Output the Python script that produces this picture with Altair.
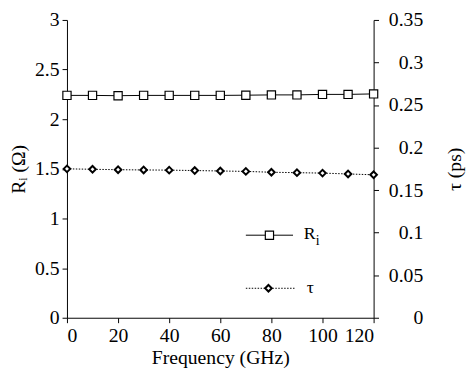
import altair as alt
import pandas as pd

freq = [0, 10, 20, 30, 40, 50, 60, 70, 80, 90, 100, 110, 120]
ri = [2.24, 2.24, 2.237, 2.24, 2.24, 2.24, 2.24, 2.242, 2.245, 2.245, 2.25, 2.25, 2.255]
tau = [0.175, 0.1745, 0.174, 0.1737, 0.1735, 0.173, 0.1725, 0.172, 0.171, 0.1705, 0.170, 0.169, 0.168]

x_ticks = [0, 20, 40, 60, 80, 100, 120]
ri_ticks = [0, 0.5, 1, 1.5, 2, 2.5, 3]
tau_ticks = [0, 0.05, 0.1, 0.15, 0.2, 0.25, 0.3, 0.35]

df = pd.DataFrame({"freq": freq, "ri": ri, "tau": tau})
one = pd.DataFrame({"k": [0]})

FONT = "Liberation Serif"
AX = dict(labelFont=FONT, titleFont=FONT, labelFontSize=20, titleFontSize=20,
          labelColor="black", titleColor="black", grid=False)

xenc = alt.X("freq:Q", scale=alt.Scale(domain=[0, 120], nice=False),
             axis=alt.Axis(values=x_ticks, title="Frequency (GHz)",
                           labelPadding=3, titlePadding=3, **AX))

ri_y = alt.Y("ri:Q", scale=alt.Scale(domain=[0, 3], nice=False),
             axis=alt.Axis(values=ri_ticks, format="~g", title="Rᵢ (Ω)", orient="left",
                           labelPadding=3, titlePadding=6, **AX))
tau_y = alt.Y("tau:Q", scale=alt.Scale(domain=[0, 0.35], nice=False),
              axis=alt.Axis(values=tau_ticks, format="~g", title="τ (ps)", orient="right",
                            labelAlign="right", labelPadding=45,
                            titleAngle=270, titlePadding=42, **AX))

base = alt.Chart(df)
ri_line = base.mark_line(color="black", strokeWidth=1).encode(x=xenc, y=ri_y)
ri_pts = base.mark_point(shape="square", filled=True, fill="white", stroke="black",
                         strokeWidth=1.2, size=70, opacity=1).encode(x="freq:Q", y="ri:Q")
tau_line = base.mark_line(color="black", strokeWidth=1, strokeDash=[1.5, 1.5]).encode(x=xenc, y=tau_y)
tau_pts = base.mark_point(shape="diamond", filled=True, fill="white", stroke="black",
                          strokeWidth=2, size=45, opacity=1).encode(x="freq:Q", y="tau:Q")

ri_layer = alt.layer(ri_line, ri_pts)
tau_layer = alt.layer(tau_line, tau_pts)

lg = alt.Chart(one)
leg1_line = lg.mark_rule(color="black", strokeWidth=1).encode(
    x=alt.value(182), x2=alt.value(230), y=alt.value(219))
leg1_pt = lg.mark_point(shape="square", filled=True, fill="white", stroke="black",
                        strokeWidth=1.2, size=70, opacity=1).encode(x=alt.value(206), y=alt.value(219))
leg1_t = lg.mark_text(text="R", font=FONT, fontSize=18, align="left", baseline="middle",
                      color="black").encode(x=alt.value(241), y=alt.value(218))
leg1_s = lg.mark_text(text="i", font=FONT, fontSize=14, align="left", baseline="middle",
                      color="black").encode(x=alt.value(253), y=alt.value(225))
leg2_line = lg.mark_rule(color="black", strokeWidth=1, strokeDash=[1.5, 1.5]).encode(
    x=alt.value(182), x2=alt.value(232), y=alt.value(273))
leg2_pt = lg.mark_point(shape="diamond", filled=True, fill="white", stroke="black",
                        strokeWidth=2, size=45, opacity=1).encode(x=alt.value(205), y=alt.value(273))
leg2_t = lg.mark_text(text="τ", font=FONT, fontSize=18, align="left", baseline="middle",
                      color="black").encode(x=alt.value(244), y=alt.value(273))

chart = alt.layer(ri_layer, tau_layer, leg1_line, leg1_pt, leg1_t, leg1_s,
                  leg2_line, leg2_pt, leg2_t).resolve_scale(y="independent").properties(
    width=312, height=303,
    autosize=alt.AutoSizeParams(type="none"),
    padding={"left": 60, "right": 94, "top": 9, "bottom": 50},
).configure(font=FONT).configure_view(stroke=None).configure_axis(
    domainColor="black", tickColor="black",
    titleFontWeight="normal", tickSize=5, domainWidth=1, tickWidth=1,
)

chart.save("out.html", embed_options={"renderer": "svg", "actions": False})
